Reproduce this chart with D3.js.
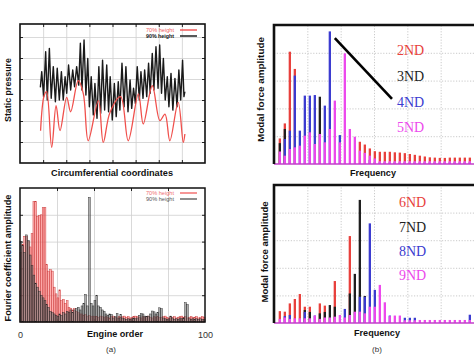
<!DOCTYPE html>
<html><head><meta charset="utf-8">
<script src="https://cdn.jsdelivr.net/npm/d3@7/dist/d3.min.js"></script>
<style>html,body{margin:0;padding:0;background:#fff;}svg{display:block;}</style>
</head><body>
<svg id="chart" width="474" height="355" xmlns="http://www.w3.org/2000/svg"></svg>
<script>
// ---------------- DATA ----------------
// (a) top: static pressure along circumference
const circ70 = [0.89,1.04,1.15,1.37,1.56,1.73,2.02,2.19,2.52,2.74,2.95,3.39,3.60,3.89,4.35,4.68,5.12,5.33,5.72,6.05,6.27,6.48,6.84,7.06,7.13];
const pres70 = [1.54,3.19,3.40,0.75,2.73,1.54,3.13,2.44,3.92,3.29,1.06,2.97,0.98,2.41,3.16,1.06,3.29,1.86,3.68,2.02,2.33,1.06,2.89,0.98,1.38];
const circ90 = [0.88,0.94,1.02,1.11,1.18,1.27,1.35,1.44,1.53,1.61,
  1.70,1.79,1.87,1.95,2.02,2.10,2.19,2.28,2.36,2.45,
  2.54,2.61,2.68,2.77,2.85,2.93,3.00,3.08,3.17,3.24,
  3.33,3.41,3.49,3.57,3.66,3.75,3.83,3.90,3.99,4.08,
  4.16,4.25,4.32,4.41,4.50,4.58,4.67,4.76,4.83,4.91,
  4.99,5.07,5.16,5.23,5.32,5.39,5.48,5.56,5.63,5.72,
  5.79,5.88,5.97,6.04,6.12,6.20,6.28,6.37,6.44,6.53,
  6.61,6.70,6.79,6.87,6.95,7.03,7.09,7.13];
const pres90 = [3.60,4.35,3.16,5.30,3.00,5.46,3.08,4.59,2.92,4.51,
  3.00,4.35,3.00,4.11,3.32,4.67,3.48,4.43,3.63,4.59,
  3.71,5.70,3.48,5.86,3.24,4.98,2.68,4.11,2.29,3.79,
  2.13,4.59,2.37,4.90,2.52,4.67,2.44,4.11,2.05,3.79,
  2.21,3.87,2.52,4.75,2.68,4.59,2.44,3.95,2.60,3.56,
  2.84,4.59,3.00,4.35,3.08,4.43,3.16,4.75,3.32,5.22,
  3.48,5.54,3.56,5.62,3.32,4.98,3.00,4.11,2.68,4.27,
  2.52,4.03,2.68,4.43,3.00,4.90,3.16,3.40];

// (a) bottom: Fourier coefficient amplitude per engine order 0..99
const fourier70 = [2.6,2.9,3.2,3.2,3.0,2.8,3.3,4.5,4.5,3.95,
  3.98,4.0,4.27,4.27,2.15,1.9,1.95,1.9,1.3,1.05,
  0.9,1.2,0.8,0.85,0.7,0.8,0.55,0.5,0.45,0.5,
  0.4,0.35,0.3,0.3,0.25,0.28,0.22,0.25,0.2,0.22,
  0.2,0.2,0.18,0.22,0.2,0.16,0.2,0.18,0.15,0.2,
  0.22,0.18,0.15,0.2,0.18,0.2,0.22,0.18,0.2,0.15,
  0.18,0.2,0.22,0.2,0.18,0.15,0.2,0.18,0.2,0.22,
  0.18,0.15,0.2,0.18,0.2,0.16,0.18,0.2,0.22,0.18,
  0.15,0.2,0.18,0.2,0.15,0.18,0.2,0.22,0.18,0.2,
  0.15,0.18,0.2,0.16,0.18,0.2,0.15,0.18,0.2,0.18];
const fourier90 = [3.0,2.85,2.6,3.25,3.05,2.5,2.1,1.75,1.45,1.3,
  1.15,1.0,0.9,0.8,0.65,0.55,0.4,0.35,0.3,0.25,
  0.2,0.3,0.25,0.35,0.3,0.4,0.35,0.45,0.35,0.45,
  0.5,0.55,0.45,0.6,0.7,1.03,0.6,4.65,0.7,0.6,
  0.8,1.0,0.6,0.55,0.45,0.4,0.3,0.25,0.3,0.28,
  0.15,0.2,0.32,0.15,0.29,0.15,0.12,0.1,0.12,0.1,
  0.12,0.15,0.12,0.15,0.25,0.31,0.3,0.22,0.2,0.22,
  0.3,0.41,0.38,0.3,0.36,0.53,0.5,0.15,0.12,0.1,
  0.12,0.22,0.15,0.1,0.12,0.1,0.15,0.12,0.15,0.72,
  0.65,0.12,0.1,0.12,0.1,0.12,0.1,0.12,0.1,0.1];
const engineOrders = d3.range(0, 100);
const engineTickLabels = [0, 100];

// (b): modal force amplitude per frequency bin
const freqBins = [7,13,19,25,31,37,43,49,55,61,67,73,79,85,91,97,103,109,115,121,127,133,139,145,151,157,163,169,175,181,187,193,199,205,211,217,223,229,235];
const nd2 = [0.92,1.46,4.04,3.42,0,0,0,0,0,0,0,0,0,0,0,0,0.8,0.7,0.56,0.46,0.44,0.44,0.44,0.42,0.41,0.39,0.36,0.33,0.3,0.27,0.24,0.23,0.22,0.22,0.23,0.23,0.23,0.23,0.23];
const nd3 = [0.75,1.26,0,0,0,0,0,0,2.42,0,0,0,0,0,0,0,0,0,0,0,0,0,0,0,0,0,0,0,0,0,0,0,0,0,0,0,0,0,0];
const nd4 = [0,0.9,1.2,3.18,1.2,2.46,2.46,2.48,0,2.1,4.77,0,1.04,0,0,0,0,0,0.15,0.06,0.06,0.06,0.06,0.06,0.06,0.06,0.06,0.06,0.06,0.06,0.06,0.06,0.06,0.06,0.06,0.06,0.06,0.06,0.06];
const nd5 = [0.45,0.3,0.54,0.6,0.66,1.02,1.14,0.72,1.08,0.78,1.26,2.28,0.78,3.98,1.26,0.98,0.48,0.4,0.3,0.2,0.1,0.1,0.1,0.1,0.1,0.1,0.1,0.1,0.1,0.1,0.1,0.1,0.1,0.1,0.1,0.1,0.1,0.1,0.1];
const nd6 = [0.43,0.41,0.71,0.87,1.05,0.59,0.59,0,0.71,0.63,0,1.52,0,0,3.15,0,0,0,0,0,0,0,0,0,0,0,0,0,0,0,0,0,0,0,0,0,0,0,0];
const nd7 = [0,0,0,0,0,0.47,0.4,0,0.35,0.4,0.65,0.59,0,0,1.07,1.78,4.46,0.98,0,0,0,0,0,0,0,0,0,0,0,0,0,0,0,0,0,0,0,0,0];
const nd8 = [0,0.25,0.29,0,0,0.4,0,0.27,0,0,0,0,0,0.51,0,0,0.95,0.95,3.61,1.2,0,0,0.27,0,0,0.19,0.19,0.19,0,0,0,0,0,0,0,0,0,0,0.3];
const nd9 = [0.15,0.2,0.15,0.17,0.17,0.17,0.17,0.27,0.15,0.2,0.2,0.23,0.29,0.2,0.29,0.41,0.41,0.35,0.59,0.59,1.38,0.75,0.25,0.27,0.27,0.1,0.1,0.1,0.11,0.11,0.11,0.11,0.11,0.11,0.11,0.11,0.11,0.11,0.11];
const ndLabelsTop = ["2ND","3ND","4ND","5ND"];
const ndLabelsBottom = ["6ND","7ND","8ND","9ND"];

// ---------------- DRAWING ----------------
const svg = d3.select('#chart');
const SANS = "'Liberation Sans', Arial, sans-serif";
const SERIF = "'Liberation Serif', 'Times New Roman', serif";
const C = {red:'#e8403c', black:'#1e1e1e', blue:'#3b3bd0', mag:'#ec48ec'};

function grid(g, xs, ys, xt, yt, box, st) {
  const gx = g.append('g').attr('transform', `translate(0,${box.b})`)
    .call(d3.axisBottom(xs).tickValues(xt).tickSize(-(box.b - box.t)).tickFormat(''));
  const gy = g.append('g').attr('transform', `translate(${box.l},0)`)
    .call(d3.axisLeft(ys).tickValues(yt).tickSize(-(box.r - box.l)).tickFormat(''));
  [gx, gy].forEach(a => {
    a.select('.domain').remove();
    a.selectAll('line').attr('stroke', st.c).attr('stroke-width', st.w).attr('stroke-dasharray', st.d || null);
  });
}
function inTicks(g, xs, ys, xt, yt, box) {
  const mk = (axis, tr) => {
    const a = g.append('g').attr('transform', tr).call(axis);
    a.select('.domain').remove();
    a.selectAll('text').remove();
    a.selectAll('line').attr('stroke', '#222').attr('stroke-width', 1);
  };
  mk(d3.axisBottom(xs).tickValues(xt).tickSize(-3), `translate(0,${box.b})`);
  mk(d3.axisTop(xs).tickValues(xt).tickSize(-3), `translate(0,${box.t})`);
  mk(d3.axisLeft(ys).tickValues(yt).tickSize(-3), `translate(${box.l},0)`);
  mk(d3.axisRight(ys).tickValues(yt).tickSize(-3), `translate(${box.r},0)`);
}
function txt(t, x, y, o) {
  const e = svg.append('text').text(t).attr('x', x).attr('y', y)
    .attr('font-family', o.f || SANS).attr('font-size', o.s).attr('font-weight', o.w || 'normal')
    .attr('fill', o.c || '#111').attr('text-anchor', o.a || 'middle');
  if (o.r) e.attr('transform', `rotate(-90,${x},${y})`);
  if (o.len) e.attr('textLength', o.len).attr('lengthAdjust', 'spacingAndGlyphs');
  return e;
}

// ===== Top-left: static pressure =====
const TL = {l:20, r:205, t:24, b:163};
const xTL = d3.scaleLinear().domain([0, 8]).range([TL.l, TL.r]);
const yTL = d3.scaleLinear().domain([0, 6.62]).range([TL.b, TL.t]);
const gTL = svg.append('g');
grid(gTL, xTL, yTL, [1,2,3,4,5,6,7], [1,2,3,4,5,6], TL, {c:'#cfcfcf', w:0.8});
inTicks(gTL, xTL, yTL, [1,2,3,4,5,6,7], [1,2,3,4,5,6], TL);
const line70 = d3.line().x((d, i) => xTL(circ70[i])).y(d => yTL(d)).curve(d3.curveCatmullRom.alpha(0.5));
const line90 = d3.line().x((d, i) => xTL(circ90[i])).y(d => yTL(d));
gTL.append('path').attr('d', line90(pres90)).attr('fill', 'none').attr('stroke', '#1a1a1a').attr('stroke-width', 1.4).attr('stroke-linejoin', 'round');
gTL.append('path').attr('d', line70(pres70)).attr('fill', 'none').attr('stroke', '#f0504c').attr('stroke-width', 1.3);
gTL.append('rect').attr('x', TL.l).attr('y', TL.t).attr('width', TL.r - TL.l).attr('height', TL.b - TL.t)
  .attr('fill', 'none').attr('stroke', '#111').attr('stroke-width', 1.6);
// legend
txt('70% height', 146, 32, {s:5.5, c:'#f06060', a:'start', len:28});
txt('90% height', 146, 38, {s:5.5, c:'#111', w:'bold', a:'start', len:28});
svg.append('line').attr('x1', 180).attr('x2', 197).attr('y1', 30).attr('y2', 30).attr('stroke', '#f05050').attr('stroke-width', 1.4);
svg.append('line').attr('x1', 180).attr('x2', 197).attr('y1', 36).attr('y2', 36).attr('stroke', '#111').attr('stroke-width', 1.4);
txt('Static pressure', 10.5, 90, {s:9.5, w:'bold', r:true, len:64});
txt('Circumferential coordinates', 112, 175.5, {s:9.5, w:'bold', len:122});

// ===== Bottom-left: Fourier coefficient amplitude =====
const BL = {l:20, r:205, t:188, b:322};
const xBL = d3.scaleLinear().domain([0, 100]).range([BL.l, BL.r]);
const yBL = d3.scaleLinear().domain([0, 5]).range([BL.b, BL.t]);
const gBL = svg.append('g');
grid(gBL, xBL, yBL, [20,40,60,80], [1,2,3,4], BL, {c:'#cfcfcf', w:0.8});
inTicks(gBL, xBL, yBL, [20,40,60,80], [1,2,3,4], BL);
const bw = xBL(1) - xBL(0);
gBL.selectAll('rect.r70').data(engineOrders).join('rect').attr('class', 'r70')
  .attr('x', d => xBL(d)).attr('width', bw)
  .attr('y', d => yBL(fourier70[d])).attr('height', d => yBL(0) - yBL(fourier70[d]))
  .attr('fill', 'rgba(255,110,110,0.55)').attr('stroke', '#c83a3a').attr('stroke-width', 0.45);
gBL.selectAll('rect.r90').data(engineOrders).join('rect').attr('class', 'r90')
  .attr('x', d => xBL(d)).attr('width', bw)
  .attr('y', d => yBL(fourier90[d])).attr('height', d => yBL(0) - yBL(fourier90[d]))
  .attr('fill', 'rgba(105,105,105,0.55)').attr('stroke', '#2a2a2a').attr('stroke-width', 0.45);
gBL.append('rect').attr('x', BL.l).attr('y', BL.t).attr('width', BL.r - BL.l).attr('height', BL.b - BL.t)
  .attr('fill', 'none').attr('stroke', '#111').attr('stroke-width', 1.5);
const axBL = gBL.append('g').attr('transform', `translate(0,${BL.b})`)
  .call(d3.axisBottom(xBL).tickValues(engineTickLabels).tickSize(0).tickPadding(10).tickFormat(d3.format('d')));
axBL.select('.domain').remove();
axBL.selectAll('text').attr('font-family', SANS).attr('font-size', 9).attr('fill', '#333');
txt('70% height', 146, 195, {s:5.5, c:'#f07070', a:'start', len:28});
txt('90% height', 146, 201, {s:5.5, c:'#555', a:'start', len:28});
svg.append('line').attr('x1', 180).attr('x2', 197).attr('y1', 193).attr('y2', 193).attr('stroke', '#f05050').attr('stroke-width', 1.2);
svg.append('line').attr('x1', 180).attr('x2', 197).attr('y1', 199).attr('y2', 199).attr('stroke', '#444').attr('stroke-width', 1.2);
txt('Fourier coefficient amplitude', 10.5, 258, {s:9.5, w:'bold', r:true, len:127});
txt('Engine order', 115, 337, {s:9.5, w:'bold', len:56});
txt('(a)', 111, 352, {s:8, c:'#333'});

// ===== Right panels =====
function ndPanel(box, series, labels, labelY, labelX) {
  const xs = d3.scaleLinear().domain([0, 240]).range([box.l, 474]);
  const ys = d3.scaleLinear().domain([0, 5]).range([box.b, box.t]);
  const g = svg.append('g');
  grid(g, xs, ys, [40,80,120,160,200], [1,2,3,4], box, {c:'#bdbdbd', w:0.8, d:'1.2,1.6'});
  const colors = [C.red, C.black, C.blue, C.mag];
  series.forEach((s, k) => {
    g.selectAll('rect.s' + k).data(freqBins).join('rect').attr('class', 's' + k)
      .attr('x', (d) => xs(d) - 1.15).attr('width', 2.3)
      .attr('y', (d, i) => ys(s[i])).attr('height', (d, i) => ys(0) - ys(s[i]))
      .attr('fill', colors[k]);
  });
  g.append('line').attr('x1', box.l).attr('x2', 476).attr('y1', box.b).attr('y2', box.b).attr('stroke', '#c040c8').attr('stroke-width', 1.6);
  g.append('path').attr('d', `M${box.l},${box.b}V${box.t}H476`).attr('fill', 'none').attr('stroke', '#111').attr('stroke-width', 2.6);
  labels.forEach((t, k) => txt(t, labelX, labelY[k], {f:SERIF, s:14, c:colors[k], a:'start'}));
  return {xs, ys, g};
}
const TR = {l:274, r:476, t:25, b:164};
const pTR = ndPanel(TR, [nd2, nd3, nd4, nd5], ndLabelsTop, [55, 81, 107, 132], 397);
pTR.g.append('line').attr('x1', pTR.xs(73)).attr('y1', pTR.ys(4.53)).attr('x2', pTR.xs(141.6)).attr('y2', pTR.ys(2.34))
  .attr('stroke', '#000').attr('stroke-width', 2.6);
txt('Modal force amplitude', 264, 89.5, {s:8.8, w:'bold', r:true, len:105});
txt('Frequency', 373, 176, {s:8.5, w:'bold', len:46});

const BR = {l:274, r:476, t:185, b:323};
ndPanel(BR, [nd6, nd7, nd8, nd9], ndLabelsBottom, [207, 232, 256, 280], 399);
txt('Modal force amplitude', 268, 252, {s:8.8, w:'bold', r:true, len:101});
txt('Frequency', 377, 336, {s:8.5, w:'bold', len:46});
txt('(b)', 377, 352, {s:8, c:'#333'});
</script>
</body></html>
